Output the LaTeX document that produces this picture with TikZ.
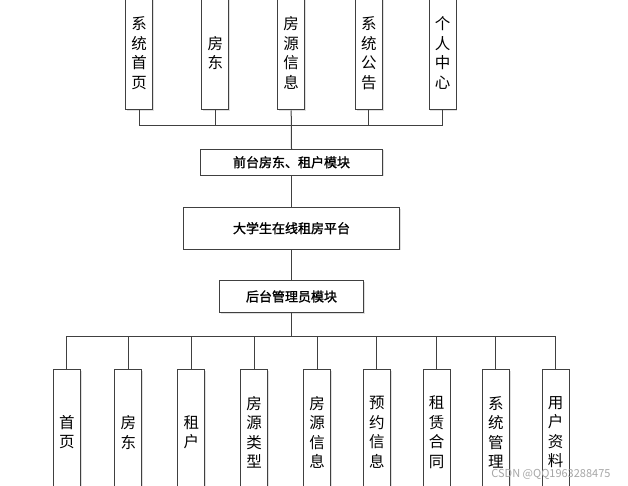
\documentclass[tikz,border=0pt]{standalone}
\usepackage{fontspec}
\setmainfont{Noto Sans CJK SC}
\newfontfamily\cjkbold[AutoFakeBold=1.5]{Noto Sans CJK SC}
\usetikzlibrary{shadows}

\begin{document}
\begin{tikzpicture}[x=1pt, y=-1pt,
		box/.style={draw=black!75, line width=1pt, fill=white, inner sep=0pt,
			drop shadow={shadow xshift=1.2pt, shadow yshift=-1.2pt, opacity=0.25}},
		colbox/.style={box, minimum width=27pt, align=center,
			font=\fontsize{15.5}{19.5}\selectfont},
		modbox/.style={box, font=\fontsize{13}{15}\cjkbold\bfseries},
		link/.style={draw=black!75, line width=1pt}]
	\useasboundingbox (0,0) rectangle (628,486);

	% front modules (top row)
	\node[colbox, minimum height=114pt] (t1) at (139.2,53) {系\\统\\首\\页};
	\node[colbox, minimum height=114pt] (t2) at (215.3,53) {房\\东};
	\node[colbox, minimum height=114pt] (t3) at (291.2,53) {房\\源\\信\\息};
	\node[colbox, minimum height=114pt] (t4) at (368.8,53) {系\\统\\公\\告};
	\node[colbox, minimum height=114pt] (t5) at (442.5,53) {个\\人\\中\\心};

	% middle
	\node[modbox, minimum width=181.6pt, minimum height=26pt] (front) at (291.5,162.3) {前台房东、租户模块};
	\node[modbox, minimum width=216pt, minimum height=41.7pt] (platform) at (291.5,228.2) {大学生在线租房平台};
	\node[modbox, minimum width=144.4pt, minimum height=31.6pt] (admin) at (291.5,296.5) {后台管理员模块};

	% admin modules (bottom row)
	\node[colbox, minimum height=126pt] (b1) at (66.8,432.3) {首\\页};
	\node[colbox, minimum height=126pt] (b2) at (128.3,432.3) {房\\东};
	\node[colbox, minimum height=126pt] (b3) at (191.3,432.3) {租\\户};
	\node[colbox, minimum height=126pt] (b4) at (254.2,432.3) {房\\源\\类\\型};
	\node[colbox, minimum height=126pt] (b5) at (317,432.3) {房\\源\\信\\息};
	\node[colbox, minimum height=126pt] (b6) at (376.8,432.3) {预\\约\\信\\息};
	\node[colbox, minimum height=126pt] (b7) at (436.5,432.3) {租\\赁\\合\\同};
	\node[colbox, minimum height=126pt] (b8) at (495.8,432.3) {系\\统\\管\\理};
	\node[colbox, minimum height=126pt] (b9) at (555.5,432.3) {用\\户\\资\\料};

	% top bus
	\coordinate (topbus) at (291.2,126);
	\draw[link] (t1.south) -- (t1.south |- topbus) -- (t5.south |- topbus) -- (t5.south);
	\draw[link] (t2.south) -- (t2.south |- topbus);
	\draw[link] (t4.south) -- (t4.south |- topbus);
	\draw[link] (t3.south) -- (front.north);

	% spine
	\draw[link] (front.south) -- (platform.north);
	\draw[link] (platform.south) -- (admin.north);

	% bottom bus
	\coordinate (botbus) at (291.5,336.7);
	\draw[link] (admin.south) -- (botbus);
	\draw[link] (b1.north) -- (b1.north |- botbus) -- (b9.north |- botbus) -- (b9.north);
	\draw[link] (b2.north) -- (b2.north |- botbus);
	\draw[link] (b3.north) -- (b3.north |- botbus);
	\draw[link] (b4.north) -- (b4.north |- botbus);
	\draw[link] (b5.north) -- (b5.north |- botbus);
	\draw[link] (b6.north) -- (b6.north |- botbus);
	\draw[link] (b7.north) -- (b7.north |- botbus);
	\draw[link] (b8.north) -- (b8.north |- botbus);

	% watermark
	\node[text=black!35, font=\fontsize{11}{11}\selectfont, anchor=east] (mark) at (614,474) {CSDN @QQ1963288475};
\end{tikzpicture}
\end{document}
